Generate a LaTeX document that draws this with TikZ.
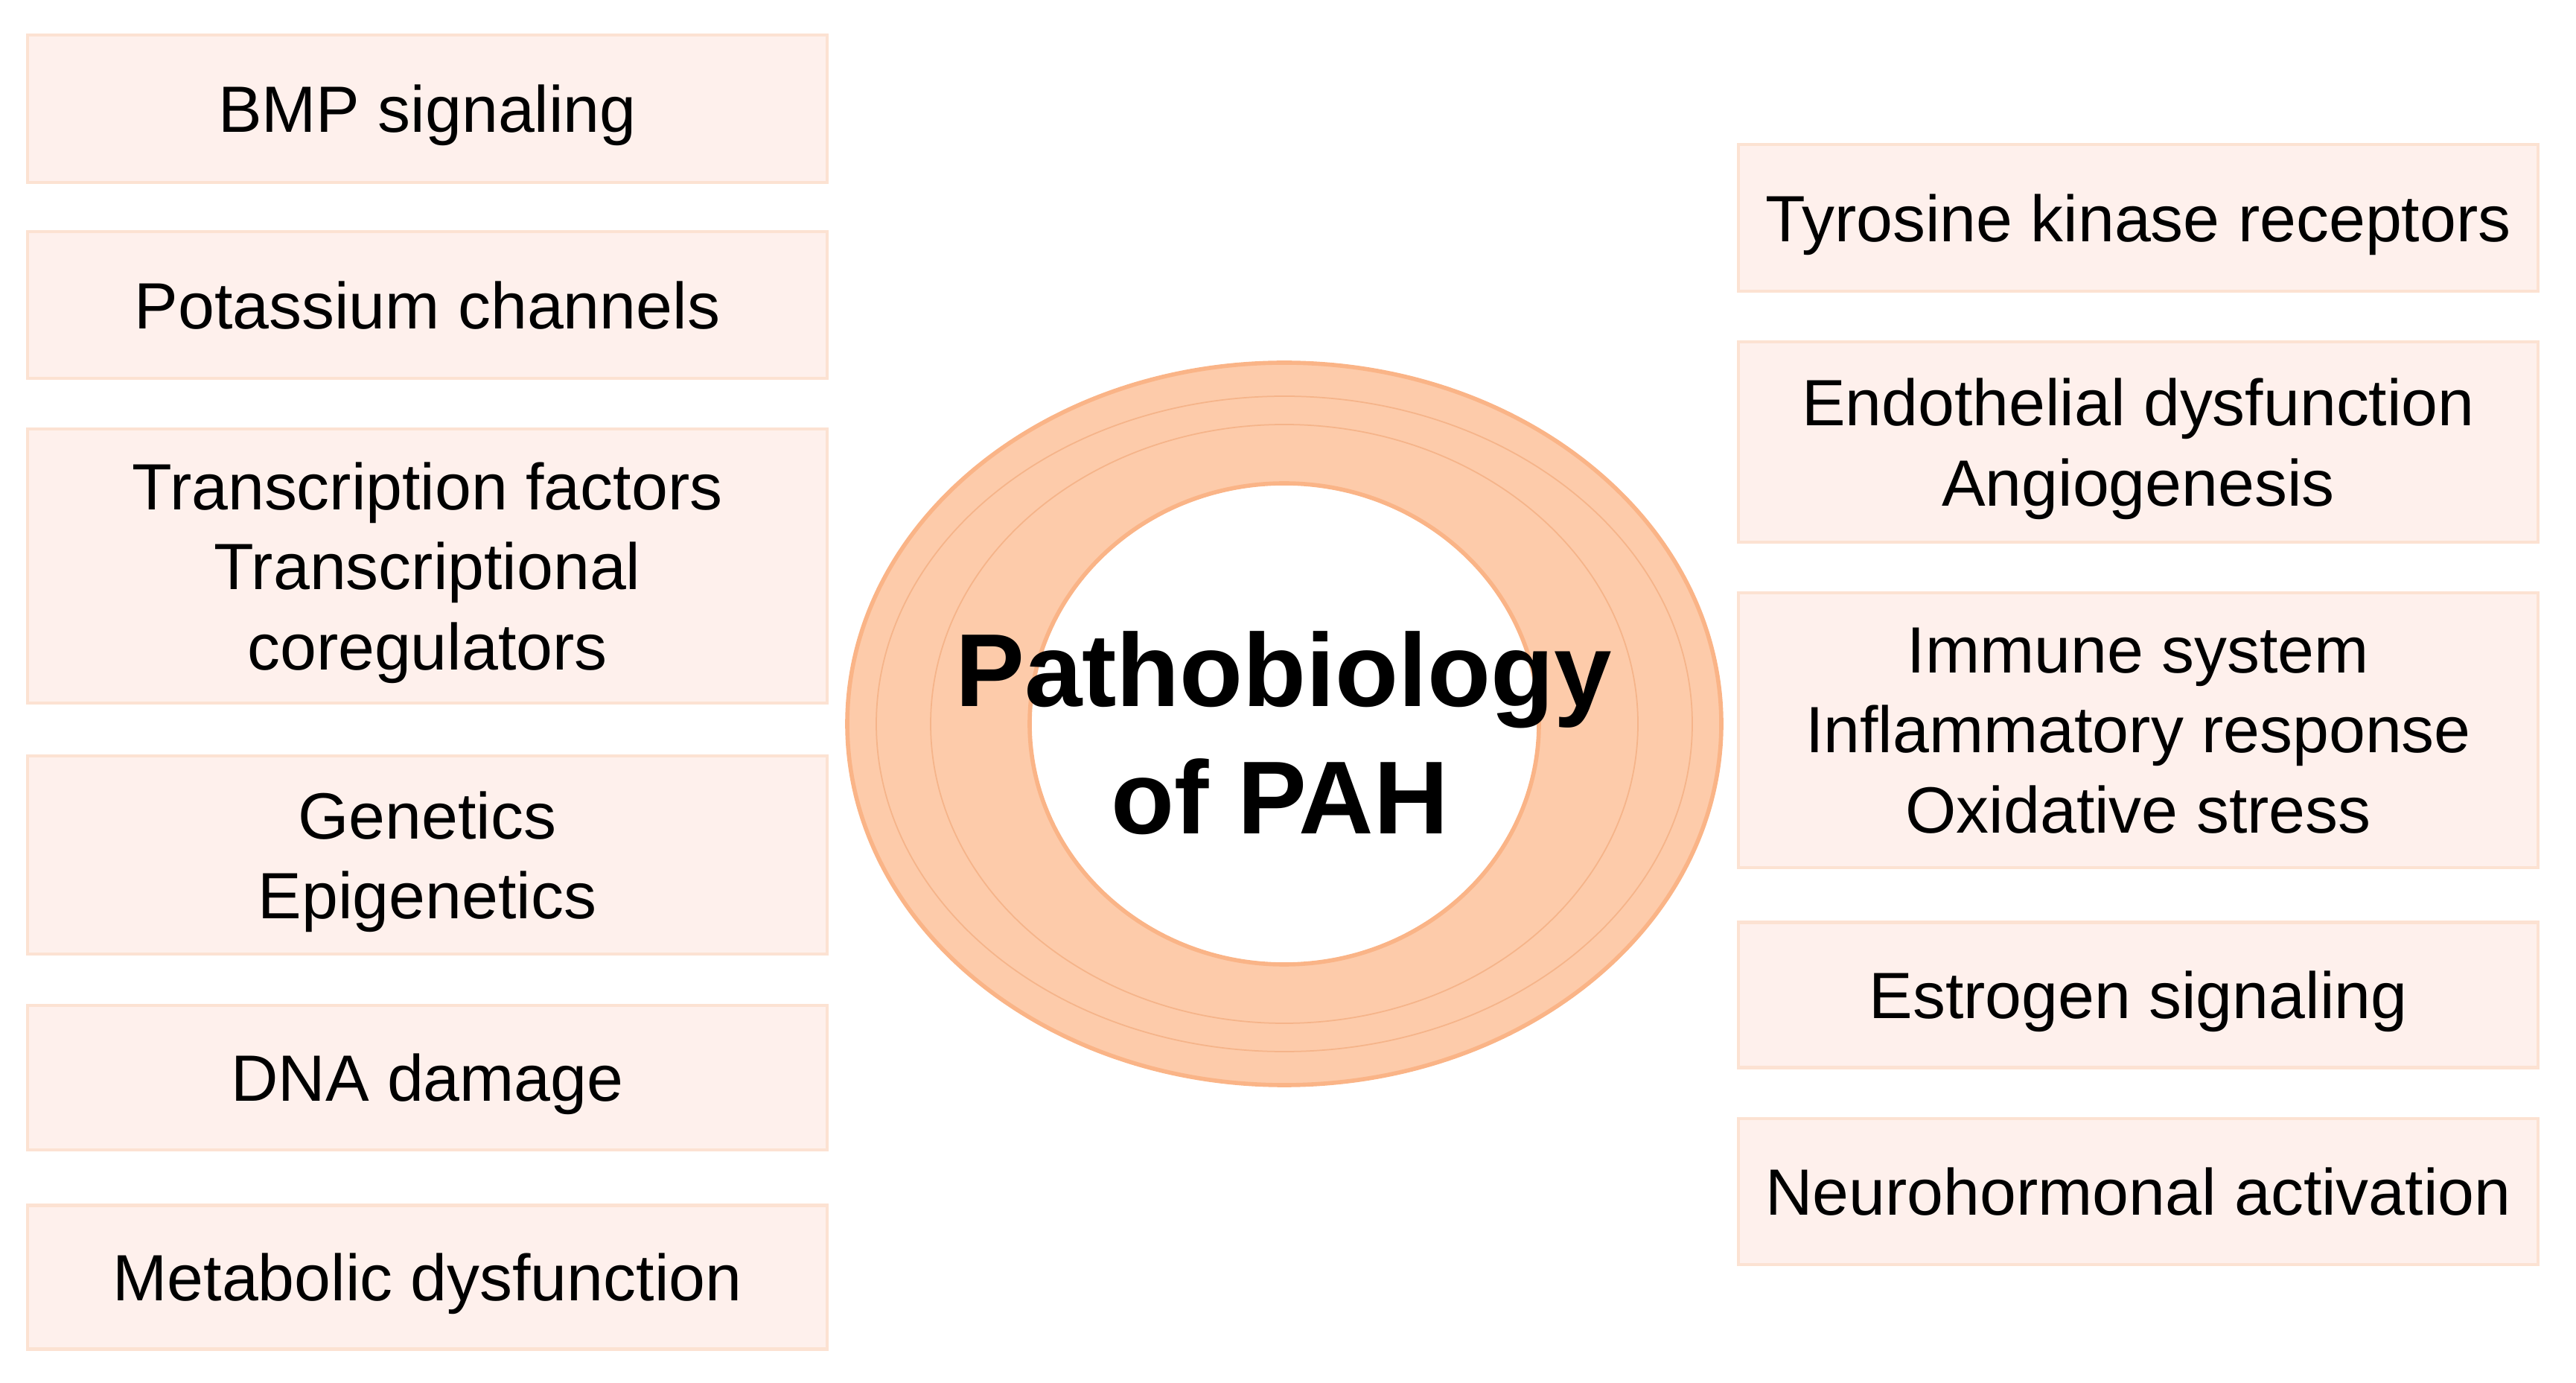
\documentclass[tikz,border=0pt]{standalone}
\usepackage{fontspec}
\setmainfont{Liberation Sans}
\definecolor{boxfill}{HTML}{FEF0EC}
\definecolor{boxline}{HTML}{FCE2D2}
\definecolor{ringfill}{HTML}{FDCBAA}
\definecolor{ringline}{HTML}{FAB487}
\definecolor{ringthin}{HTML}{F5B48A}

\begin{document}
\begin{tikzpicture}[
    factor/.style={draw=boxline,line width=1.2pt,fill=boxfill,minimum width=10.74cm,
      inner sep=0pt,text depth=0pt,align=center,font=\fontsize{25}{30.6}\selectfont},
    title/.style={anchor=base,font=\bfseries\fontsize{39.6}{48.6}\selectfont}]
  \useasboundingbox (0,0) rectangle (34.60,-18.57);
  % left column
  \node[factor,minimum height=1.98cm](bmp)at(5.74,-1.46){BMP signaling};
  \node[factor,minimum height=1.97cm](potassium)at(5.74,-4.095){Potassium channels};
  \node[factor,minimum height=3.68cm](transcription)at(5.74,-7.60){Transcription factors\\Transcriptional\\coregulators};
  \node[factor,minimum height=2.66cm](genetics)at(5.74,-11.48){Genetics\\Epigenetics};
  \node[factor,minimum height=1.94cm](dna)at(5.74,-14.47){DNA damage};
  \node[factor,minimum height=1.93cm](metabolic)at(5.74,-17.15){Metabolic dysfunction};
  % right column
  \node[factor,minimum height=1.97cm](tyrosine)at(28.72,-2.925){Tyrosine kinase receptors};
  \node[factor,minimum height=2.69cm](endothelial)at(28.72,-5.935){Endothelial dysfunction\\Angiogenesis};
  \node[factor,minimum height=3.69cm](immune)at(28.72,-9.805){Immune system\\Inflammatory response\\Oxidative stress};
  \node[factor,minimum height=1.95cm](estrogen)at(28.72,-13.36){Estrogen signaling};
  \node[factor,minimum height=1.96cm](neuro)at(28.72,-16.00){Neurohormonal activation};
  % ring
  \coordinate (c) at (17.25,-9.72);
  \fill[ringfill,even odd rule](c)ellipse(5.87 and 4.85)(c)ellipse(3.42 and 3.23);
  \draw[ringthin,line width=0.5pt](c)ellipse(5.48 and 4.40);
  \draw[ringthin,line width=0.5pt](c)ellipse(4.75 and 4.02);
  \draw[ringline,line width=1.6pt](c)ellipse(5.87 and 4.85);
  \draw[ringline,line width=1.6pt](c)ellipse(3.42 and 3.23);
  \node[title](patho)at(17.24,-9.49){Pathobiology};
  \node[title](pah)at(17.19,-11.20){of PAH};
\end{tikzpicture}
\end{document}
